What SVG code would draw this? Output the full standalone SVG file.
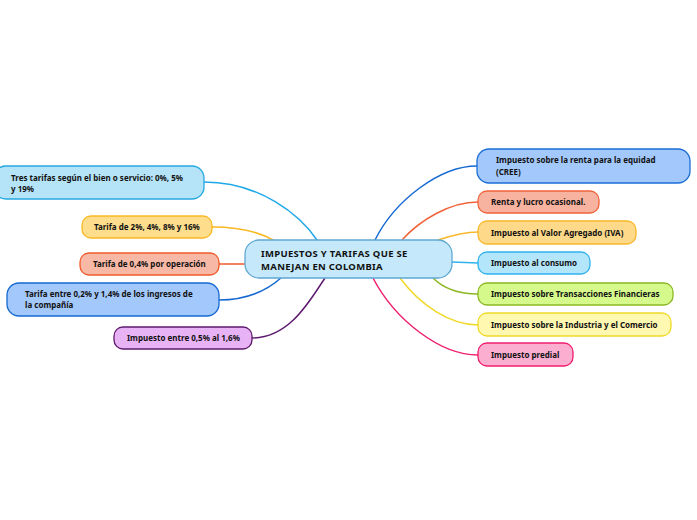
<svg xmlns="http://www.w3.org/2000/svg" width="697" height="520" viewBox="0 0 697 520">
<style>
text{font-family:"Noto Sans","Open Sans","DejaVu Sans",sans-serif;font-weight:bold;font-size:8px;fill:#111}
.c text{font-size:9.5px;letter-spacing:0.3px}
rect{stroke-width:1.3}
#conn path{fill:none;stroke-width:1.5}
</style>
<rect width="697" height="520" fill="#fff"/>
<g id="conn">
<path d="M204,182 C260,182 300,215 317,240" stroke="#1fa8e8"/>
<path d="M212,227 C240,227 260,232 275,241" stroke="#f9b822"/>
<path d="M219,264 L245,264" stroke="#ef5a2a"/>
<path d="M219,300 C250,300 270,288 282,277" stroke="#1569d2"/>
<path d="M252,338 C290,338 310,300 325,278" stroke="#5e1a6e"/>
<path d="M375,240 C395,200 440,166 477,166" stroke="#1569d2"/>
<path d="M402,240 C420,220 450,202 478,202" stroke="#f0633a"/>
<path d="M438,240 C450,236 465,232 478,232" stroke="#f7b72b"/>
<path d="M452,262 L478,263" stroke="#2fb2ee"/>
<path d="M433,278 C445,290 460,294 478,294" stroke="#8bb822"/>
<path d="M400,278 C420,305 450,325 478,325" stroke="#f0d92a"/>
<path d="M373,278 C395,320 440,355 478,355" stroke="#ef1e6e"/>
</g>
<g id="central" class="c">
<rect x="245" y="240" width="207" height="38" rx="14" fill="#c5e9fb" stroke="#5fa8d3"/>
<text x="261" y="257">IMPUESTOS Y TARIFAS QUE SE</text>
<text x="261" y="270">MANEJAN EN COLOMBIA</text>
</g>
<g id="l1">
<rect x="-6" y="166" width="210" height="33" rx="12" fill="#b5e3f8" stroke="#27a9e1"/>
<text x="11" y="181">Tres tarifas según el bien o servicio: 0%, 5%</text>
<text x="11" y="192">y 19%</text>
</g>
<g id="l2">
<rect x="82" y="216" width="130" height="22" rx="9" fill="#fedd8c" stroke="#f9b822"/>
<text x="94" y="230">Tarifa de 2%, 4%, 8% y 16%</text>
</g>
<g id="l3">
<rect x="80" y="253" width="139" height="22" rx="9" fill="#f8b8a6" stroke="#ef5a2a"/>
<text x="93" y="267">Tarifa de 0,4% por operación</text>
</g>
<g id="l4">
<rect x="7" y="283" width="212" height="33" rx="12" fill="#a3c8fb" stroke="#1569d2"/>
<text x="25" y="297">Tarifa entre 0,2% y 1,4% de los ingresos de</text>
<text x="25" y="308">la compañía</text>
</g>
<g id="l5">
<rect x="114" y="327" width="138" height="22" rx="9" fill="#e8b3f5" stroke="#5e1a6e"/>
<text x="127" y="341">Impuesto entre 0,5% al 1,6%</text>
</g>
<g id="r1">
<rect x="477" y="149" width="213" height="34" rx="12" fill="#a3c8fb" stroke="#1c6ed6"/>
<text x="496" y="163">Impuesto sobre la renta para la equidad</text>
<text x="496" y="175">(CREE)</text>
</g>
<g id="r2">
<rect x="478" y="191" width="121" height="22" rx="9" fill="#f8b3a0" stroke="#f0633a"/>
<text x="491" y="205">Renta y lucro ocasional.</text>
</g>
<g id="r3">
<rect x="478" y="221" width="158" height="23" rx="9" fill="#fed98a" stroke="#f7b72b"/>
<text x="491" y="236">Impuesto al Valor Agregado (IVA)</text>
</g>
<g id="r4">
<rect x="478" y="252" width="112" height="22" rx="9" fill="#b3e6fa" stroke="#2fb2ee"/>
<text x="491" y="266">Impuesto al consumo</text>
</g>
<g id="r5">
<rect x="478" y="283" width="195" height="22" rx="9" fill="#d5f98a" stroke="#8bb822"/>
<text x="491" y="297">Impuesto sobre Transacciones Financieras</text>
</g>
<g id="r6">
<rect x="478" y="313" width="193" height="23" rx="9" fill="#fff8b0" stroke="#f0d92a"/>
<text x="491" y="328">Impuesto sobre la Industria y el Comercio</text>
</g>
<g id="r7">
<rect x="478" y="343" width="95" height="23" rx="9" fill="#fcaed0" stroke="#ef1e6e"/>
<text x="491" y="358">Impuesto predial</text>
</g>
</svg>
